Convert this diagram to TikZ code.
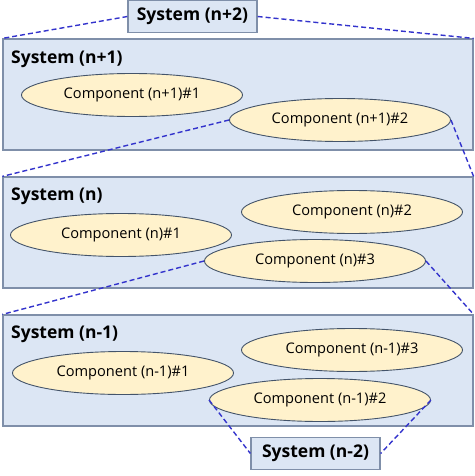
\documentclass[tikz,border=0pt]{standalone}
\usepackage{fontspec}
\setmainfont{Open Sans}
\usetikzlibrary{shapes.geometric}
\definecolor{boxfill}{HTML}{DCE6F4}
\definecolor{boxline}{HTML}{7F8FA9}
\definecolor{elfill}{HTML}{FFF2CC}
\definecolor{elline}{HTML}{44546A}
\definecolor{dashc}{HTML}{3333CC}
\begin{document}
\begin{tikzpicture}[x=1pt,y=-1pt,
  sysbox/.style={draw=boxline,fill=boxfill,line width=1.2pt,inner sep=0pt},
  smallsys/.style={draw=boxline,fill=boxfill,line width=1.2pt,inner sep=0pt,minimum width=129pt,minimum height=32pt,font=\fontsize{17.5}{20}\selectfont\bfseries},
  syslabel/.style={anchor=west,inner sep=0pt,font=\fontsize{17.5}{20}\selectfont\bfseries},
  comp/.style={ellipse,draw=elline,fill=elfill,line width=0.9pt,minimum width=221pt,minimum height=43pt,inner sep=0pt,font=\fontsize{14.6}{17}\selectfont},
  link/.style={draw=dashc,line width=1.4pt,dash pattern=on 5pt off 3pt}]
\useasboundingbox (0,0) rectangle (474,476);
\node[sysbox,minimum width=470pt,minimum height=111pt] (b1) at (238,94.5) {};
\node[sysbox,minimum width=470pt,minimum height=111pt] (b2) at (238,232.5) {};
\node[sysbox,minimum width=470pt,minimum height=111pt] (b3) at (238,370.5) {};
\node[smallsys] (top) at (192.5,16.5) {System (n+2)};
\node[smallsys] (bot) at (315.5,453.5) {System (n-2)};
\node[syslabel] (l1) at (11,59) {System (n+1)};
\node[syslabel] (l2) at (11,196) {System (n)};
\node[syslabel] (l3) at (11,334) {System (n-1)};
\node[comp] (c11) at (132,95) {Component (n+1)\#1};
\node[comp] (c12) at (340,120) {Component (n+1)\#2};
\node[comp] (c22) at (352,212) {Component (n)\#2};
\node[comp] (c21) at (121,235) {Component (n)\#1};
\node[comp] (c23) at (315,261) {Component (n)\#3};
\node[comp] (c33) at (352,350) {Component (n-1)\#3};
\node[comp] (c31) at (123,373) {Component (n-1)\#1};
\node[comp] (c32) at (320,400) {Component (n-1)\#2};
\draw[link] (top.west) -- (b1.north west);
\draw[link] (top.east) -- (b1.north east);
\draw[link] (c12.west) -- (b2.north west);
\draw[link] (c12.east) -- (b2.north east);
\draw[link] (c23.west) -- (b3.north west);
\draw[link] (c23.east) -- (b3.north east);
\draw[link] (c32.west) -- (bot.west);
\draw[link] (c32.east) -- (bot.east);
\end{tikzpicture}
\end{document}
